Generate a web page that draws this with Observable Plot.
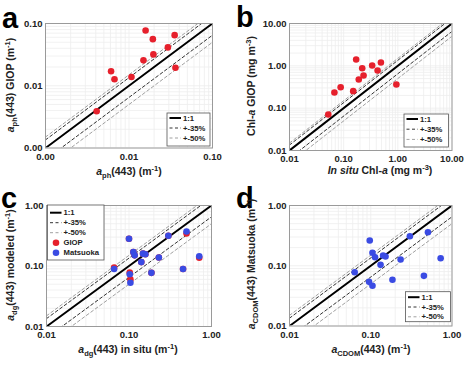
<!DOCTYPE html>
<html>
<head>
<meta charset="utf-8">
<script src="https://cdn.jsdelivr.net/npm/d3@7"></script>
<script src="https://cdn.jsdelivr.net/npm/@observablehq/plot@0.6"></script>
<style>
  html, body { margin: 0; padding: 0; background: #fff; }
  #wrap { position: relative; width: 474px; height: 365px; overflow: hidden; background: #fff; }
  #wrap > svg, #wrap > figure { position: absolute; margin: 0; }
  #overlay { position: absolute; left: 0; top: 0; pointer-events: none; }
</style>
</head>
<body>
<div id="wrap"></div>
<script>
// ---------- data ----------
// Panel a: a_ph(443)
const aphInsitu = [0.0041, 0.0061, 0.0067, 0.0107, 0.0149, 0.0158, 0.0193, 0.0196, 0.0292, 0.0352, 0.0360];
const aphGiop   = [0.0039, 0.0171, 0.0127, 0.0138, 0.0256, 0.0773, 0.0561, 0.0319, 0.0413, 0.0650, 0.0195];
// Panel b: Chl-a
const chlInsitu = [0.052, 0.0675, 0.088, 0.150, 0.170, 0.190, 0.220, 0.233, 0.336, 0.423, 0.487, 0.94];
const chlGiop   = [0.071, 0.234, 0.313, 0.252, 1.41, 0.475, 0.88, 0.59, 1.02, 0.776, 1.20, 0.362];
// Panel c: a_dg(443)
const dgInsitu   = [0.066, 0.100, 0.102, 0.104, 0.113, 0.117, 0.141, 0.148, 0.158, 0.187, 0.230, 0.300, 0.452, 0.498, 0.710];
const dgGiop     = [0.094, 0.282, 0.078, 0.060, 0.170, 0.150, 0.116, 0.160, 0.156, 0.077, 0.138, 0.317, 0.089, 0.345, 0.137];
const dgMatsuoka = [0.089, 0.282, 0.073, 0.053, 0.170, 0.150, 0.116, 0.160, 0.156, 0.077, 0.138, 0.317, 0.089, 0.372, 0.145];
// Panel d: a_CDOM(443)
const cdomInsitu   = [0.0634, 0.0972, 0.0953, 0.105, 0.105, 0.113, 0.132, 0.142, 0.152, 0.185, 0.233, 0.303, 0.451, 0.506, 0.725];
const cdomMatsuoka = [0.078, 0.262, 0.054, 0.0465, 0.164, 0.138, 0.1035, 0.1476, 0.142, 0.0584, 0.127, 0.308, 0.068, 0.360, 0.133];

// Reference lines: 1:1, +-35%, +-50%
const ratios1to1 = [1];
const ratios35 = [1.35, 0.65];
const ratios50 = [1.5, 0.5];

// Axis ticks
const ticksA = [0.001, 0.01, 0.1];
const ticksB = [0.01, 0.1, 1, 10];
const ticksCD = [0.01, 0.1, 1];

// Legend labels
const legendLines = ["1:1", "+-35%", "+-50%"];
const seriesNames = ["GIOP", "Matsuoka"];

// ---------- styling ----------
const FONT = "'Liberation Sans', Arial, Helvetica, sans-serif";
const RED = "#e6202c";
const BLUE = "#3a4be3";
const lineStyles = [
  {stroke: "#000", strokeWidth: 2, dash: null},
  {stroke: "#333", strokeWidth: 1, dash: "3,2.5"},
  {stroke: "#a0a0a0", strokeWidth: 1, dash: "3,2.5"}
];
const fmt = d3.format(".2f");
const wrap = document.getElementById("wrap");

function refLines(dom, ratios, style) {
  return ratios.map(k => Plot.line(
    [{x: dom[0], y: k * dom[0]}, {x: dom[1], y: k * dom[1]}],
    {x: "x", y: "y", stroke: style.stroke, strokeWidth: style.strokeWidth,
     strokeDasharray: style.dash, clip: true}
  ));
}

function panel(o) {
  const grid = d3.scaleLog().domain(o.dom).ticks();
  const marks = [
    Plot.gridX(grid, {stroke: "#ededed", strokeOpacity: 1, strokeWidth: 0.8}),
    Plot.gridY(grid, {stroke: "#ededed", strokeOpacity: 1, strokeWidth: 0.8}),
    ...refLines(o.dom, ratios50, lineStyles[2]),
    ...refLines(o.dom, ratios35, lineStyles[1]),
    ...refLines(o.dom, ratios1to1, lineStyles[0]),
  ];
  for (const s of o.series) {
    marks.push(Plot.dot(s.x.map((v, i) => ({x: v, y: s.y[i]})),
      {x: "x", y: "y", r: 3.3, fill: s.color, stroke: "none"}));
  }
  marks.push(Plot.frame({stroke: "#9a9a9a", strokeWidth: 1}));
  marks.push(Plot.axisX(o.ticks, {tickSize: 0, tickPadding: 5, tickFormat: fmt, label: null}));
  marks.push(Plot.axisY(o.ticks, {tickSize: 0, tickPadding: 3, tickFormat: fmt, label: null}));
  const svg = Plot.plot({
    width: o.w, height: o.h,
    marginLeft: o.m[0], marginTop: o.m[1], marginRight: o.m[2], marginBottom: o.m[3],
    x: {type: "log", domain: o.dom},
    y: {type: "log", domain: o.dom},
    style: {background: "transparent", fontFamily: FONT, fontSize: "9.5px", fontWeight: "bold", color: "#222", overflow: "visible"},
    marks
  });
  svg.style.left = o.left + "px";
  svg.style.top = o.top + "px";
  wrap.appendChild(svg);
}

panel({left: 0, top: 0, w: 237, h: 182, m: [45, 23, 25, 34.5], dom: [0.001, 0.1], ticks: ticksA,
  series: [{x: aphInsitu, y: aphGiop, color: RED}]});
panel({left: 237, top: 0, w: 237, h: 182, m: [52, 23, 22.5, 32], dom: [0.01, 10], ticks: ticksB,
  series: [{x: chlInsitu, y: chlGiop, color: RED}]});
panel({left: 0, top: 182, w: 237, h: 183, m: [46, 23, 26, 39], dom: [0.01, 1], ticks: ticksCD,
  series: [{x: dgInsitu, y: dgGiop, color: RED}, {x: dgInsitu, y: dgMatsuoka, color: BLUE}]});
panel({left: 237, top: 182, w: 237, h: 183, m: [52, 23, 22.5, 39.5], dom: [0.01, 1], ticks: ticksCD,
  series: [{x: cdomInsitu, y: cdomMatsuoka, color: BLUE}]});

// ---------- overlay: panel letters, axis titles, legends ----------
const ov = d3.select(wrap).append("svg").attr("id", "overlay")
  .attr("width", 474).attr("height", 365)
  .style("font-family", FONT).style("font-weight", "bold").style("fill", "#222");

function rich(x, y, parts, rotate) {
  const t = ov.append("text").attr("text-anchor", "middle").attr("font-size", 10.5);
  if (rotate) t.attr("transform", `translate(${x},${y}) rotate(-90)`);
  else t.attr("x", x).attr("y", y);
  let shift = 0;
  for (const p of parts) {
    const sp = t.append("tspan").text(p.t);
    let target = 0;
    if (p.s === "sub") { target = 2.8; sp.attr("font-size", 7.5); }
    if (p.s === "sup") { target = -4.2; sp.attr("font-size", 7.5); }
    if (target !== shift) { sp.attr("dy", target - shift); shift = target; }
    if (p.i) sp.attr("font-style", "italic");
  }
  return t;
}

// panel letters
[["a", 2, 28], ["b", 236, 27], ["c", 1, 208], ["d", 236, 208]].forEach(([l, x, y]) =>
  ov.append("text").attr("x", x).attr("y", y).attr("font-size", 29).attr("fill", "#000").text(l));

// axis titles
rich(129, 175, [{t: "a", i: true}, {t: "ph", s: "sub"}, {t: "(443) (m"}, {t: "-1", s: "sup"}, {t: ")"}]);
rich(14, 85, [{t: "a", i: true}, {t: "ph", s: "sub"}, {t: "(443) GIOP (m"}, {t: "-1", s: "sup"}, {t: ")"}], true);
rich(380, 174, [{t: "In situ", i: true}, {t: " Chl-"}, {t: "a", i: true}, {t: " (mg m"}, {t: "-3", s: "sup"}, {t: ")"}]);
rich(255, 86, [{t: "Chl-"}, {t: "a", i: true}, {t: " GIOP (mg m"}, {t: "-3", s: "sup"}, {t: ")"}], true);
rich(128, 353, [{t: "a", i: true}, {t: "dg", s: "sub"}, {t: "(443) in situ (m"}, {t: "-1", s: "sup"}, {t: ")"}]);
rich(14, 265, [{t: "a", i: true}, {t: "dg", s: "sub"}, {t: "(443) modeled (m"}, {t: "-1", s: "sup"}, {t: ")"}], true);
rich(371, 353, [{t: "a", i: true}, {t: "CDOM", s: "sub"}, {t: "(443) (m"}, {t: "-1", s: "sup"}, {t: ")"}]);
rich(255, 264, [{t: "a", i: true}, {t: "CDOM", s: "sub"}, {t: "(443) Matsuoka (m"}, {t: "-1", s: "sup"}, {t: ")"}], true);

function legend(x, y, w, h, first, step, withSeries) {
  const g = ov.append("g");
  g.append("rect").attr("x", x).attr("y", y).attr("width", w).attr("height", h)
    .attr("fill", "#fff").attr("stroke", "#555").attr("stroke-width", 0.8);
  const rows = legendLines.map((l, i) => ({label: l, line: lineStyles[i]}));
  if (withSeries) {
    rows.push({label: seriesNames[0], dot: RED});
    rows.push({label: seriesNames[1], dot: BLUE});
  }
  rows.forEach((r, i) => {
    const cy = y + first + i * step;
    if (r.line) {
      g.append("line").attr("x1", x + 2.5).attr("x2", x + 14).attr("y1", cy).attr("y2", cy)
        .attr("stroke", r.line.stroke).attr("stroke-width", r.line.strokeWidth)
        .attr("stroke-dasharray", r.line.dash);
    } else {
      g.append("circle").attr("cx", x + 8.5).attr("cy", cy).attr("r", 3.3).attr("fill", r.dot);
    }
    g.append("text").attr("x", x + 16).attr("y", cy).attr("dy", "0.35em")
      .attr("font-size", 7.7).text(r.label);
  });
}
legend(167, 113, 43, 33, 5, 10, false);
legend(404, 114, 44.5, 33, 5, 10.2, false);
legend(47.5, 205, 56.5, 55, 7.7, 10, true);
legend(405.5, 291.7, 45, 30, 5.5, 9.8, false);
</script>
</body>
</html>
